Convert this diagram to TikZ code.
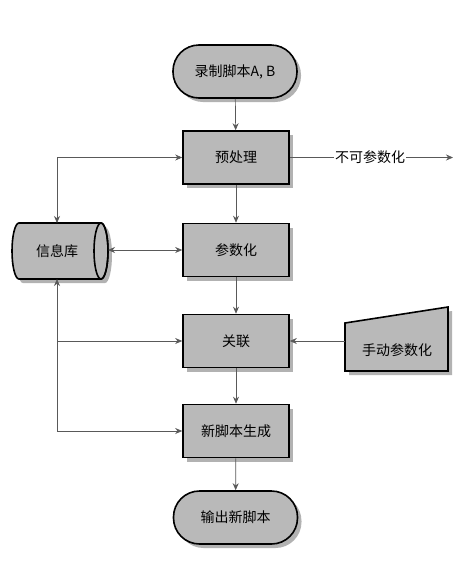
\documentclass[tikz,border=0pt]{standalone}
\usepackage{fontspec}
\setmainfont{Noto Sans CJK SC}
\usetikzlibrary{shapes.geometric,shadows,arrows.meta,calc}
\begin{document}
\begin{tikzpicture}[x=1pt,y=-1pt,
  shad/.style={drop shadow={shadow xshift=4pt, shadow yshift=-4pt, fill=black!30, opacity=1}},
  box/.style={draw=black, line width=1.6pt, fill=gray!55, minimum width=106pt, minimum height=53pt, inner sep=0pt, font=\fontsize{14}{16}\selectfont, shad},
  term/.style={box, rounded corners=26pt, minimum width=124pt},
  conn/.style={draw=black!65, line width=0.7pt, -{Stealth[length=7pt,width=6pt]}},
  bi/.style={conn, {Stealth[length=7pt,width=6pt]}-{Stealth[length=7pt,width=6pt]}},
  lbl/.style={font=\fontsize{14}{16}\selectfont, inner sep=1pt},
  outl/.style={line width=1.6pt, draw=black, fill=gray!55}]
\useasboundingbox (0,0) rectangle (474,563);
\fill[white] (0,0) rectangle (474,563);

\node[term] (t1) at (235,71.5) {录制脚本A, B};
\node[box] (pre) at (236,157.5) {预处理};
\node[box] (par) at (236,250) {参数化};
\node[box] (rel) at (236,341) {关联};
\node[box] (gen) at (236,431) {新脚本生成};
\node[term] (t2) at (235.5,517.5) {输出新脚本};

% cylinder (information base)
\fill[black!30] (23,227) -- (105,227) arc (-90:90:7 and 28) -- (23,283) arc (90:270:7 and 28) -- cycle;
\draw[outl] (19,223) -- (101,223) arc (-90:90:7 and 28) -- (19,279) arc (90:270:7 and 28) -- cycle;
\draw[line width=1.6pt] (101,251) ellipse (7 and 28);
\node[lbl, minimum width=96pt, minimum height=56pt, inner sep=0pt] (cyl) at (57,251) {信息库};

% manual input shape
\fill[black!30] (349,327) -- (452,311) -- (452,375) -- (349,375) -- cycle;
\draw[outl] (345,323) -- (448,307) -- (448,371) -- (345,371) -- cycle;
\node[lbl] (man) at (397,350) {手动参数化};
\coordinate (manIn) at (345,341);

\node[lbl, fill=white] (np) at (370,157.5) {不可参数化};
\coordinate (npEnd) at (453,157.5);

\coordinate (cylTop) at (57,223);
\coordinate (cylBot) at (57,279);
\coordinate (cylR) at (108,250);
\coordinate (br) at (57,341);

\draw[conn] (t1) -- (pre);
\draw[conn] (pre) -- (par);
\draw[conn] (par) -- (rel);
\draw[conn] (rel) -- (gen);
\draw[conn] (gen) -- (t2);

\draw[draw=black!65, line width=0.7pt] (pre.east) -- (np.west);
\draw[conn] (np.east) -- (npEnd);

\draw[bi] (pre.west) -| (cylTop);
\draw[bi] (cylR) -- (par.west);
\draw[bi] (cylBot) |- (gen.west);
\draw[conn] (br) -- (rel.west);
\draw[conn] (manIn) -- (manIn -| rel.east);
\end{tikzpicture}
\end{document}
